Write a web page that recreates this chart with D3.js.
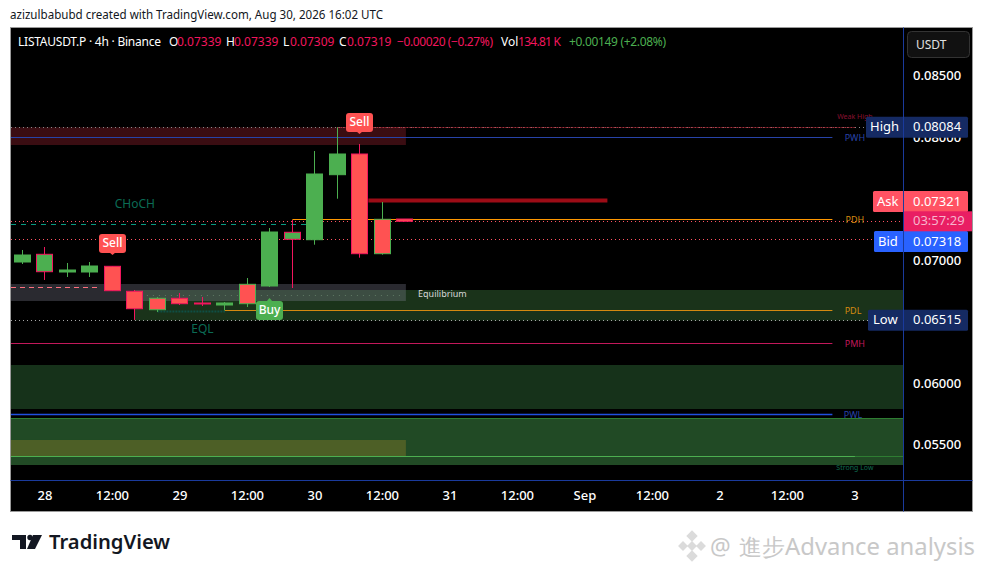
<!DOCTYPE html>
<html>
<head>
<meta charset="utf-8">
<script src="https://cdn.jsdelivr.net/npm/d3@7"></script>
<style>
  html, body { margin: 0; background: #fff; }
  svg { display: block; }
  text { font-family: "Noto Sans", sans-serif; }
</style>
</head>
<body>
<div id="chart"></div>
<script>
// candles
var times = ["2026-08-27T20:00", "2026-08-28T00:00", "2026-08-28T04:00", "2026-08-28T08:00", "2026-08-28T12:00", "2026-08-28T16:00",
  "2026-08-28T20:00", "2026-08-29T00:00", "2026-08-29T04:00", "2026-08-29T08:00", "2026-08-29T12:00", "2026-08-29T16:00",
  "2026-08-29T20:00", "2026-08-30T00:00", "2026-08-30T04:00", "2026-08-30T08:00", "2026-08-30T12:00", "2026-08-30T16:00"];
var opens = [0.069878, 0.069089, 0.069065, 0.069065, 0.069528, 0.067496, 0.066927, 0.066927, 0.066545, 0.066382, 0.068065, 0.067927, 0.071724, 0.071691, 0.076976, 0.078659, 0.07335, 0.073374];
var highs = [0.070854, 0.071098, 0.069797, 0.069878, 0.069528, 0.067602, 0.067033, 0.067358, 0.067033, 0.066626, 0.068577, 0.072642, 0.073293, 0.078902, 0.080829, 0.079472, 0.074756, 0.073374];
var lows = [0.069715, 0.068415, 0.068659, 0.068659, 0.067545, 0.065163, 0.065813, 0.066382, 0.066301, 0.065976, 0.06622, 0.067846, 0.067764, 0.071285, 0.075024, 0.070228, 0.070472, 0.073187];
var closes = [0.070447, 0.070504, 0.069228, 0.069553, 0.067545, 0.066081, 0.066, 0.066488, 0.066463, 0.066545, 0.066488, 0.072317, 0.072293, 0.077033, 0.078659, 0.070553, 0.070553, 0.073187];
var outlines = ["up", "down", "up", "up", "down", "down", "up", "down", "down", "up", "up", "up", "down", "up", "up", "down", "up", "down"];

// axis ticks
var priceTicks = [0.085, 0.08, 0.07, 0.06, 0.055];
var timeTicks = ["2026-08-28T00:00", "2026-08-28T12:00", "2026-08-29T00:00", "2026-08-29T12:00", "2026-08-30T00:00", "2026-08-30T12:00",
  "2026-08-31T00:00", "2026-08-31T12:00", "2026-09-01T00:00", "2026-09-01T12:00", "2026-09-02T00:00", "2026-09-02T12:00", "2026-09-03T00:00"];
var timeLabels = ["28", "12:00", "29", "12:00", "30", "12:00", "31", "12:00", "Sep", "12:00", "2", "12:00", "3"];

// shaded zones: top price, bottom price, end time (null = right edge of the pane)
var zoneNames = ["weakHigh", "demand", "lowerDemand", "strongLow", "oliveBlock", "equilibrium"];
var zoneTops = [0.080829, 0.067602, 0.061504, 0.057195, 0.055407, 0.06809];
var zoneBottoms = [0.07939, 0.065122, 0.057927, 0.053374, 0.054065, 0.066707];
var zoneStarts = [null, "2026-08-28T16:00", null, null, null, null];
var zoneEnds = ["2026-08-30T16:00", null, null, null, "2026-08-30T16:00", "2026-08-30T16:00"];

// level lines
var lineNames = ["weakDots", "weakHigh", "PWH", "askDots", "bidDots", "CHoCH", "PDH", "eqDash", "eqDots", "EQL", "PDL", "lowDots", "PMH", "PWL", "strongTop", "strongTail", "strongLow", "supply"];
var linePrices = [0.080829, 0.080829, 0.080016, 0.073171, 0.071724, 0.072943, 0.073293, 0.067821, 0.067138, 0.065854, 0.065935, 0.065122, 0.063252, 0.05748, 0.057195, 0.054065, 0.054065, 0.074838];
var lineStarts = [null, "2026-08-30T04:00", null, null, null, null, "2026-08-29T20:00", null, "2026-08-28T16:00", "2026-08-28T20:00", "2026-08-29T08:00", null, null, null, null, null, null, "2026-08-30T09:30"];
var lineEnds = [null, "2026-09-03T00:00", "2026-09-02T20:00", null, "2026-09-03T04:00", "2026-08-30T00:00", "2026-09-02T20:00", "2026-08-28T09:50", "2026-08-30T16:00", "2026-08-29T08:00", "2026-09-02T20:00", "2026-09-03T04:00", "2026-09-02T20:00", "2026-09-02T20:00", null, null, "2026-09-03T00:00", "2026-09-01T04:00"];

// level captions
var captionTexts = ["Weak High", "PWH", "PDH", "PDL", "PMH", "PWL", "Strong Low", "Equilibrium", "CHoCH", "EQL"];
var captionPrices = [0.081786, 0.08, 0.073374, 0.065935, 0.063252, 0.05748, 0.053211, 0.067358, 0.07465, 0.0645];
var captionTimes = ["2026-09-03T00:00", "2026-09-03T00:00", "2026-09-03T00:00", "2026-09-02T23:40", "2026-09-03T00:00", "2026-09-02T23:40", "2026-09-03T00:00", "2026-08-30T22:40", "2026-08-28T16:00", "2026-08-29T04:00"];

// buy and sell signals: time of the candle, price the tail points at
var signalTexts = ["Sell", "Sell", "Buy"];
var signalTimes = ["2026-08-28T12:00", "2026-08-30T08:00", "2026-08-29T16:00"];
var signalPrices = [0.070447, 0.080285, 0.06695];

// price tags on the scale
var tagNames = ["High", "Ask", "Bid", "Low"];
var tagValues = [0.08084, 0.07321, 0.07318, 0.06515];

var width = 983, height = 572;
var frame = { left: 10.5, right: 972.5, top: 27.5, bottom: 511.5, paneRight: 903.5, paneBottom: 480.5 };

var parseTime = d3.utcParse("%Y-%m-%dT%H:%M");
var x = d3.scaleUtc().domain([parseTime(timeTicks[0]), parseTime(timeTicks[12])]).range([44.9, 854.9]);
var y = d3.scaleLinear().domain([0.085, 0.055]).range([76, 445]);

var green = "#4caf50", red = "#ff5252", pink = "#f2165e";
var outlineColor = d3.scaleOrdinal().domain(["up", "down"]).range([green, pink]);

var svg = d3.select("#chart").append("svg").attr("width", width).attr("height", height);

// caption above the frame
svg.append("text").attr("x", 10).attr("y", 19).attr("font-size", 12).attr("fill", "#131722")
  .attr("textLength", 373).attr("lengthAdjust", "spacingAndGlyphs")
  .text("azizulbabubd created with TradingView.com, Aug 30, 2026 16:02 UTC");

svg.append("rect").attr("x", frame.left).attr("y", frame.top)
  .attr("width", frame.right - frame.left).attr("height", frame.bottom - frame.top)
  .attr("fill", "#000").attr("stroke", "#9a9a9a");

// legend row
var legendParts = [
  ["LISTAUSDT.P \u00b7 4h \u00b7 Binance", 18, "#fff", 143], ["O", 169, "#fff"], ["0.07339", 177, pink], ["H", 226, "#fff"], ["0.07339", 234, pink],
  ["L", 283, "#fff"], ["0.07309", 290, pink], ["C", 339, "#fff"], ["0.07319", 347, pink], ["\u22120.00020 (\u22120.27%)", 397, pink, 96],
  ["Vol", 501, "#fff"], ["134.81 K", 518, pink, 43], ["+0.00149 (+2.08%)", 569, green, 97]
];
svg.append("g").selectAll("text").data(legendParts).join("text")
  .attr("x", function (d) { return d[1]; })
  .attr("y", 46).attr("font-size", 12)
  .attr("fill", function (d) { return d[2]; })
  .attr("textLength", function (d) { return d[3] || null; })
  .text(function (d) { return d[0]; });

// zones
var zoneFill = { weakHigh: "#3a0d12", demand: "#1a331a", lowerDemand: "#16321a", strongLow: "#214a25", oliveBlock: "#4d5f26", equilibrium: "rgb(140,140,160)" };
var zoneGroup = svg.append("g");
zoneNames.forEach(function (name, i) {
  var x0 = zoneStarts[i] ? x(parseTime(zoneStarts[i])) - 0.5 : frame.left + 0.5;
  var x1 = zoneEnds[i] ? x(parseTime(zoneEnds[i])) + 1 : frame.paneRight;
  zoneGroup.append("rect")
    .attr("x", x0).attr("width", x1 - x0)
    .attr("y", y(zoneTops[i])).attr("height", y(zoneBottoms[i]) - y(zoneTops[i]))
    .attr("fill", zoneFill[name])
    .attr("fill-opacity", name == "equilibrium" ? 0.3 : 1);
});

// level lines
var lineStyle = {
  weakDots: ["#8a8a8a", 1, "1 3"], weakHigh: ["#a8323e", 1, "2 1"], PWH: ["#2743a8", 1, null], askDots: ["#ff5263", 1, "1 3"], bidDots: ["#ff5263", 1, "1 3"],
  CHoCH: ["#089981", 1, "5 5"], PDH: ["#ff9800", 1, null], eqDash: ["#ff6f7d", 1, "5 4"], eqDots: ["#5f7a63", 1, "1 5"], EQL: ["#0f4f45", 2, "2 1"],
  PDL: ["#d58a10", 1, null], lowDots: ["#a8a8a8", 1, "1 3"], PMH: ["#c2185b", 1, null], PWL: ["#2050e0", 1.5, null], strongTop: ["#2e7d32", 1, null],
  strongTail: ["#2e7d32", 1, null], strongLow: ["#4caf50", 1, null], supply: ["#9c0c16", 4, null]
};
var lineGroup = svg.append("g");
lineNames.forEach(function (name, i) {
  var s = lineStyle[name];
  lineGroup.append("line")
    .attr("x1", lineStarts[i] ? x(parseTime(lineStarts[i])) : frame.left + 0.5)
    .attr("x2", lineEnds[i] ? x(parseTime(lineEnds[i])) : frame.paneRight)
    .attr("y1", Math.floor(y(linePrices[i])) + 0.5)
    .attr("y2", Math.floor(y(linePrices[i])) + 0.5)
    .attr("stroke", s[0]).attr("stroke-width", s[1])
    .attr("stroke-dasharray", s[2]);
});
// small step where PDL starts
lineGroup.append("line")
  .attr("x1", Math.floor(x(parseTime(lineStarts[10]))) + 0.5).attr("x2", Math.floor(x(parseTime(lineStarts[10]))) + 0.5)
  .attr("y1", y(closes[9])).attr("y2", y(linePrices[10]))
  .attr("stroke", green);

// candles
var candles = times.map(function (t, i) {
  return { time: parseTime(t), open: opens[i], high: highs[i], low: lows[i], close: closes[i], outline: outlines[i] };
});
var candle = svg.append("g").selectAll("g").data(candles).join("g")
  .attr("transform", function (d) { return "translate(" + (Math.floor(x(d.time)) + 0.5) + ",0)"; });
candle.append("line")
  .attr("y1", function (d) { return y(d.high); })
  .attr("y2", function (d) { return y(d.low); })
  .attr("stroke", function (d) { return outlineColor(d.outline); });
candle.append("rect")
  .attr("x", -8).attr("width", 16)
  .attr("y", function (d) { return y(Math.max(d.open, d.close)); })
  .attr("height", function (d) { return Math.abs(y(d.open) - y(d.close)); })
  .attr("fill", function (d) { return d.close >= d.open ? green : red; })
  .attr("stroke", function (d) { return outlineColor(d.outline); });

// captions
var captionStyle = {
  "Weak High": ["#8b1030", 7], PWH: ["#2743a8", 9], PDH: ["#d58a10", 9], PDL: ["#d58a10", 9], PMH: ["#c2185b", 9], PWL: ["#2743a8", 9],
  "Strong Low": ["#0f6b4f", 7], Equilibrium: ["#d8d8d8", 9], CHoCH: ["#0b6b55", 12], EQL: ["#0b6b55", 12]
};
svg.append("g").selectAll("text").data(captionTexts).join("text")
  .attr("x", function (d, i) { return x(parseTime(captionTimes[i])); })
  .attr("y", function (d, i) { return y(captionPrices[i]) + 1.5; })
  .attr("text-anchor", "middle").attr("dominant-baseline", "middle")
  .attr("fill", function (d) { return captionStyle[d][0]; })
  .attr("font-size", function (d) { return captionStyle[d][1]; })
  .text(function (d) { return d; });

// buy / sell signals
signalTexts.forEach(function (label, i) {
  var cx = Math.floor(x(parseTime(signalTimes[i]))) + 0.5, tip = y(signalPrices[i]);
  var isSell = label == "Sell";
  var color = isSell ? red : green;
  var g = svg.append("g");
  g.append("rect").attr("x", cx - 13.5).attr("width", 27).attr("height", 19).attr("rx", 3)
    .attr("y", isSell ? tip - 21 : tip + 3).attr("fill", color);
  g.append("path").attr("fill", color)
    .attr("d", isSell
      ? "M" + (cx - 3) + "," + (tip - 2.5) + "L" + cx + "," + tip + "L" + (cx + 3) + "," + (tip - 2.5) + "Z"
      : "M" + (cx - 3) + "," + (tip + 3.5) + "L" + cx + "," + tip + "L" + (cx + 3) + "," + (tip + 3.5) + "Z");
  g.append("text").attr("x", cx).attr("y", isSell ? tip - 11 : tip + 13)
    .attr("text-anchor", "middle").attr("dominant-baseline", "middle")
    .attr("font-size", 12).attr("font-weight", 500).attr("fill", "#fff").text(label);
});

// axes
var yAxis = svg.append("g").attr("transform", "translate(905,0)")
  .call(d3.axisRight(y).tickValues(priceTicks).tickSize(0).tickPadding(8).tickFormat(d3.format(".5f")));
var xAxis = svg.append("g").attr("transform", "translate(0,495)")
  .call(d3.axisBottom(x).tickValues(timeTicks.map(parseTime)).tickSize(0).tickPadding(0)
    .tickFormat(function (d, i) { return timeLabels[i]; }));
[yAxis, xAxis].forEach(function (a) {
  a.select(".domain").remove();
  a.selectAll("text").attr("fill", "#fff").attr("font-size", 13)
    .attr("font-weight", 500).attr("font-family", '"Noto Sans", sans-serif');
});
yAxis.selectAll("text").attr("dy", "0.3em");
xAxis.selectAll("text").attr("dy", "0.35em").attr("dx", -0.5);

// unit button
svg.append("rect").attr("x", 907.5).attr("y", 31.5).attr("width", 62).attr("height", 26).attr("rx", 4)
  .attr("fill", "#111").attr("stroke", "#333");
svg.append("text").attr("x", 916).attr("y", 49).attr("font-size", 12).attr("fill", "#e0e0e0").text("USDT");

// price tags
var tagFill = { High: "#152a63", Low: "#152a63", Ask: "#ff5263", Bid: "#2962ff" };
var tagLeft = { High: 866, Low: 868, Ask: 873, Bid: 874 };
var tagShift = { High: 0, Low: 0, Ask: -19.5, Bid: 20 }; // the scale pushes Ask and Bid apart
tagNames.forEach(function (name, i) {
  var cy = y(tagValues[i]) + tagShift[name];
  svg.append("rect").attr("x", tagLeft[name]).attr("y", cy - 10.5)
    .attr("width", 968 - tagLeft[name]).attr("height", 21).attr("rx", 1.5)
    .attr("fill", tagFill[name]);
  svg.append("text").attr("x", tagLeft[name] + (name == "Low" ? 5 : 4)).attr("y", cy + 0.7)
    .attr("dominant-baseline", "middle").attr("font-size", 13).attr("fill", "#fff").text(name);
  svg.append("text").attr("x", 913).attr("y", cy + 0.7)
    .attr("dominant-baseline", "middle").attr("font-size", 13).attr("fill", "#fff").text(d3.format(".5f")(tagValues[i]));
});
// countdown to the candle close
var closeY = y(closes[closes.length - 1]);
svg.append("rect").attr("x", 904).attr("y", closeY - 10).attr("width", 68).attr("height", 20).attr("fill", "#e91e63");
svg.append("text").attr("x", 913).attr("y", closeY + 0.7).attr("dominant-baseline", "middle")
  .attr("font-size", 13).attr("fill", "#f7b4cc").text("03:57:29");

// pane separators go over the tags
svg.append("line").attr("x1", frame.paneRight).attr("x2", frame.paneRight).attr("y1", frame.top).attr("y2", frame.bottom).attr("stroke", "#1a3a9c");
svg.append("line").attr("x1", frame.left).attr("x2", frame.right).attr("y1", frame.paneBottom).attr("y2", frame.paneBottom).attr("stroke", "#1a3a9c");

// TradingView logo
var logo = svg.append("g").attr("fill", "#131722");
logo.append("path").attr("d", "M12,535H26V549H20V540H12Z");
logo.append("circle").attr("cx", 30).attr("cy", 537.5).attr("r", 2.7);
logo.append("path").attr("d", "M33,535H42L35,549H27Z");
svg.append("text").attr("x", 49).attr("y", 549).attr("font-size", 20.2).attr("font-weight", 600)
  .attr("font-family", 'Inter, sans-serif').attr("fill", "#131722").text("TradingView");

// watermark
var mark = svg.append("g").attr("fill", "#c8c8c8");
mark.selectAll("rect").data([[692, 536, 4], [683, 546, 3.5], [701, 546, 3.5], [692, 546, 3.5], [692, 556, 4]]).join("rect")
  .attr("x", function (d) { return d[0] - d[2]; })
  .attr("y", function (d) { return d[1] - d[2]; })
  .attr("width", function (d) { return d[2] * 2; })
  .attr("height", function (d) { return d[2] * 2; })
  .attr("opacity", 0.65)
  .attr("transform", function (d) { return "rotate(45," + d[0] + "," + d[1] + ")"; });
mark.append("text").attr("x", 710).attr("y", 555).attr("font-size", 23).text("@");
mark.append("text").attr("x", 739).attr("y", 555).attr("font-size", 23)
  .attr("font-family", '"Noto Sans CJK TC", sans-serif').text("\u9032\u6b65");
mark.append("text").attr("x", 785).attr("y", 555).attr("font-size", 24)
  .attr("textLength", 190).attr("lengthAdjust", "spacingAndGlyphs").text("Advance analysis");
</script>
</body>
</html>
